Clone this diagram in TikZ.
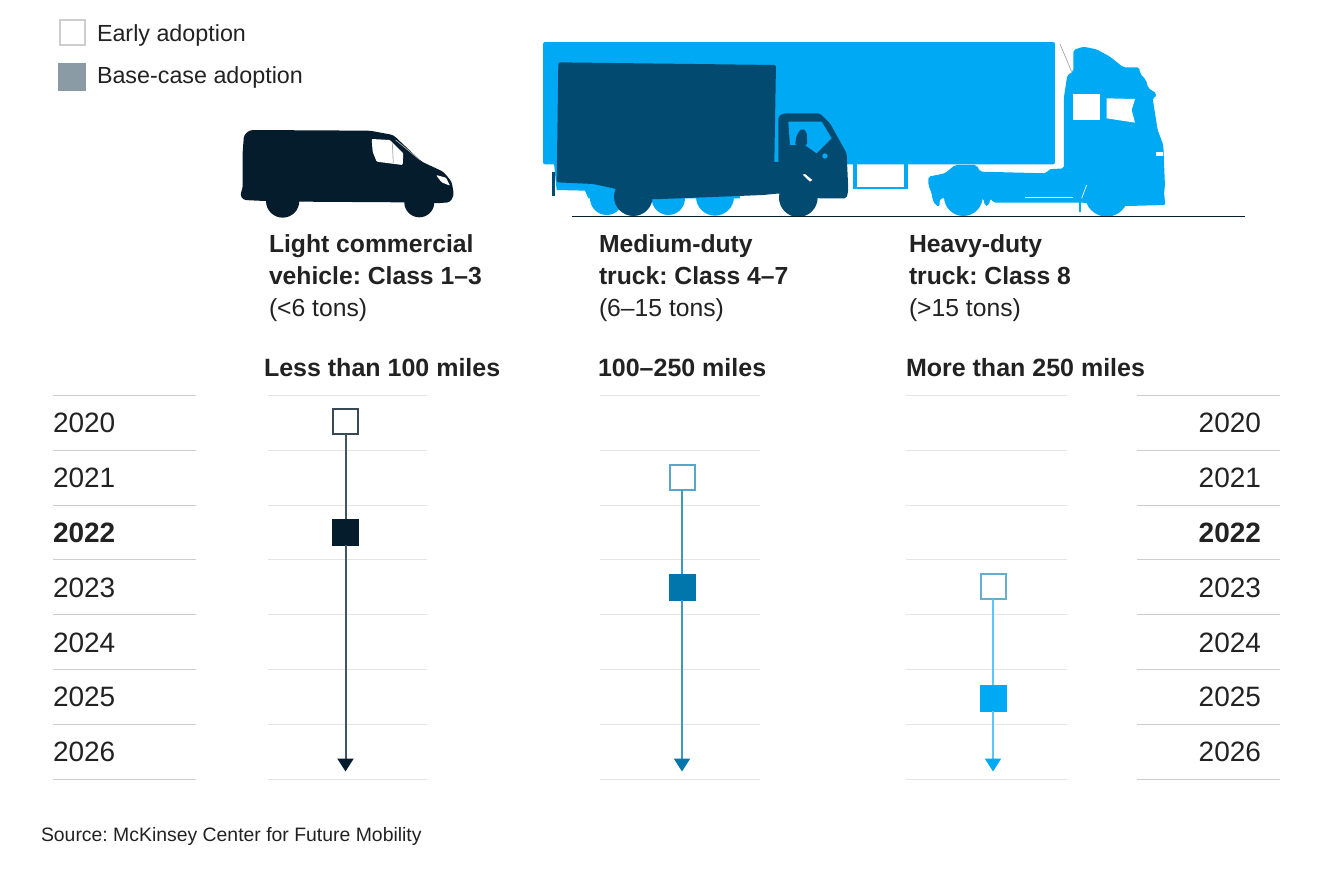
\documentclass[tikz,border=0pt]{standalone}
\usepackage{fontspec}
\setmainfont{Liberation Sans}
\usetikzlibrary{arrows.meta}
\definecolor{navy}{HTML}{051C2C}
\definecolor{midb}{HTML}{0076AD}
\definecolor{brightb}{HTML}{00A9F4}
\definecolor{deepb}{HTML}{024A70}
\definecolor{ruleL}{HTML}{E4E4E4}
\definecolor{ruleS}{HTML}{CDCDCD}
\definecolor{txt}{HTML}{222222}
\definecolor{legendgray}{HTML}{8B9BA5}
\tikzset{
  x=1pt,y=-1pt,
  every node/.style={inner sep=0pt,outer sep=0pt,text=txt,execute at begin node=\frenchspacing},
  yearlab/.style={font=\fontsize{28}{28}\selectfont},
  yearbold/.style={font=\fontsize{28}{28}\selectfont\bfseries},
  headlab/.style={align=left,anchor=north west,font=\fontsize{24.7}{32}\selectfont},
  rangelab/.style={anchor=base west,font=\fontsize{25}{30}\selectfont\bfseries},
  legendlab/.style={anchor=base west,font=\fontsize{23.3}{30}\selectfont},
  sq/.style={draw=#1,line width=2pt,fill=white,minimum size=25pt,rectangle},
  sqf/.style={draw=#1,line width=1pt,fill=#1,minimum size=26pt,rectangle},
  conn/.style 2 args={draw=#1,line width=2pt,-{Triangle[width=16pt,length=13pt,fill=#2,color=#2]}},
  gridl/.style={draw=ruleL,line width=1pt},
  grids/.style={draw=ruleS,line width=1pt},
}
\begin{document}
\begin{tikzpicture}
\useasboundingbox (0,0) rectangle (1329,871);
\fill[white] (0,0) rectangle (1329,871);

% ---------- heavy truck (zoom coordinates)
\begin{scope}[shift={(860,30)},x=0.3333pt,y=-0.3333pt]
\fill[brightb,rounded corners=2pt] (-951,36) -- (585,36) -- (585,403) -- (-951,403) -- cycle;
% under-frame
\fill[brightb] (-22,403) rectangle (-8,478);
\fill[brightb] (-8,472) rectangle (143,478);
\fill[brightb] (131,403) rectangle (143,478);
% tractor
\fill[brightb,rounded corners=2pt] (640,60) -- (670,50) -- (710,58) -- (750,80) -- (790,112) -- (838,112) -- (840,130) -- (858,150) -- (865,175) -- (890,190) -- (885,205) -- (878,205) -- (893,300) -- (910,345) -- (915,470) -- (912,485) -- (916,525) -- (805,528) -- (670,518) -- (400,518) -- (392,505) -- (385,528) -- (375,528) -- (370,505) -- (240,505) -- (238,530) -- (226,525) -- (218,510) -- (215,490) -- (205,465) -- (205,440) -- (255,430) -- (285,405) -- (350,405) -- (360,425) -- (560,430) -- (565,418) -- (612,415) -- (612,200) -- (622,135) -- (640,125) -- cycle;
\fill[brightb] (310,500) circle[radius=58];
\fill[brightb] (740,495) circle[radius=65];
\fill[brightb] (657,505) rectangle (663,545);
% windows
\fill[white] (640,193) rectangle (720,270);
\fill[white] (740,205) -- (825,207) -- (815,240) -- (825,278) -- (740,265) -- cycle;
\fill[white] (887,365) rectangle (908,378);
\draw[white,line width=0.7pt] (495,503) -- (640,503);
\draw[white,line width=0.7pt] (680,465) -- (665,505);
\draw[gray!70,line width=0.7pt] (600,42) -- (635,125);
\end{scope}

% ---------- medium truck (zoom coordinates)
\begin{scope}[shift={(530,30)},x=0.3333pt,y=-0.3333pt]
\fill[brightb] (72,400) -- (80,480) -- (165,482) -- (175,505) -- (630,505) -- (630,400) -- cycle;
\fill[brightb] (230,505) circle[radius=50];
\fill[brightb] (415,505) circle[radius=50];
\fill[brightb] (555,500) circle[radius=57];
\fill[deepb,rounded corners=2pt] (85,97) -- (738,105) -- (733,400) -- (745,410) -- (745,260) -- (760,250) -- (870,250) -- (900,280) -- (950,370) -- (955,480) -- (950,505) -- (865,505) -- (750,490) -- (700,495) -- (370,508) -- (250,475) -- (190,462) -- (80,457) -- cycle;
\fill[deepb] (733,395) rectangle (750,440);
\fill[deepb] (310,500) circle[radius=58];
\fill[deepb] (805,503) circle[radius=58];
\fill[deepb] (66,425) rectangle (76,497);
\fill[brightb] (775,275) -- (875,275) -- (905,325) -- (860,370) -- (825,345) -- (780,345) -- cycle;
\fill[deepb,rounded corners=2pt] (795,345) -- (800,315) -- (815,295) -- (830,305) -- (832,345) -- cycle;
\fill[brightb] (885,378) circle[radius=8];
\fill[white] (818,434) -- (825,432) -- (847,450) -- (840,455) -- cycle;
\end{scope}

% ---------- van (zoom coordinates)
\begin{scope}[shift={(230,115)},x=0.3333pt,y=-0.3333pt]
\fill[navy,rounded corners=3pt] (42,60) -- (60,45) -- (420,47) -- (490,60) -- (575,140) -- (640,170) -- (665,200) -- (672,240) -- (660,262) -- (615,265) -- (520,262) -- (210,260) -- (105,258) -- (40,255) -- (30,240) -- (38,220) -- (38,110) -- cycle;
\fill[navy] (158,258) circle[radius=50];
\fill[navy] (568,262) circle[radius=45];
\fill[white,rounded corners=1pt] (425,72) -- (480,75) -- (520,115) -- (518,150) -- (440,140) -- (428,110) -- cycle;
\draw[gray!70,line width=0.7pt] (487,85) -- (490,145);
\draw[gray!60,line width=0.7pt] (497,75) -- (570,135);
\fill[white,rounded corners=1pt] (618,180) -- (648,188) -- (660,212) -- (635,202) -- cycle;
\end{scope}

% ground
\coordinate (g1) at (572,216.5);
\coordinate (g2) at (1245,216.5);
\draw[navy,line width=1.4pt] (g1) -- (g2);

% legend
\node[draw=ruleS,line width=2pt,fill=white,minimum size=25pt,anchor=center] (lgA) at (72,32.5) {};
\node[fill=legendgray,minimum size=28pt] (lgB) at (72,77) {};
\node[legendlab] (lgAt) at (97,41) {Early adoption};
\node[legendlab] (lgBt) at (97,83) {Base-case adoption};

% heads
\node[headlab] (h1) at (269,235) {\textbf{Light commercial}\\\textbf{vehicle: Class 1–3}\\(<6 tons)};
\node[headlab] (h2) at (599,235) {\textbf{Medium-duty}\\\textbf{truck: Class 4–7}\\(6–15 tons)};
\node[headlab] (h3) at (909,235) {\textbf{Heavy-duty}\\\textbf{truck: Class 8}\\(>15 tons)};
\node[rangelab] (r1) at (264,376) {Less than 100 miles};
\node[rangelab] (r2) at (598,376) {100–250 miles};
\node[rangelab] (r3) at (906,376) {More than 250 miles};

% rules
\foreach \yy in {395,450,505,559,614,669,724,779}{
  \draw[grids] (53,\yy) -- (196,\yy);
  \draw[gridl] (268,\yy) -- (427,\yy);
  \draw[gridl] (600,\yy) -- (760,\yy);
  \draw[gridl] (906,\yy) -- (1067,\yy);
  \draw[grids] (1137,\yy) -- (1280,\yy);
}

% years
\foreach \yr/\yb in {2020/432,2021/487,2023/597,2024/652,2025/706,2026/761}{
  \node[yearlab,anchor=base west] (L\yr) at (53,\yb) {\yr};
  \node[yearlab,anchor=base east] (R\yr) at (1261,\yb) {\yr};
}
\node[yearbold,anchor=base west] (L2022) at (53,542) {2022};
\node[yearbold,anchor=base east] (R2022) at (1261,542) {2022};

% series
\coordinate (e1) at (345.5,771.5);
\coordinate (e2) at (682,771.5);
\coordinate (e3) at (993,771.5);
\node[sq=navy!80] (a1) at (345.5,421) {};
\node[sqf=navy] (b1) at (345.5,532) {};
\node[sq=midb!65] (a2) at (682,477) {};
\node[sqf=midb] (b2) at (682,587) {};
\node[sq=midb!60] (a3) at (993,586) {};
\node[sqf=brightb] (b3) at (993,698) {};
\draw[navy!75,line width=2pt] (a1) -- (b1);
\draw[conn={navy!75}{navy}] (b1) -- (e1);
\draw[midb!75,line width=2pt] (a2) -- (b2);
\draw[conn={midb!75}{midb}] (b2) -- (e2);
\draw[brightb!65,line width=2pt] (a3) -- (b3);
\draw[conn={brightb!65}{brightb}] (b3) -- (e3);

\node[anchor=base west,font=\fontsize{19.4}{22}\selectfont] (src) at (41,841) {Source: McKinsey Center for Future Mobility};
\end{tikzpicture}
\end{document}
